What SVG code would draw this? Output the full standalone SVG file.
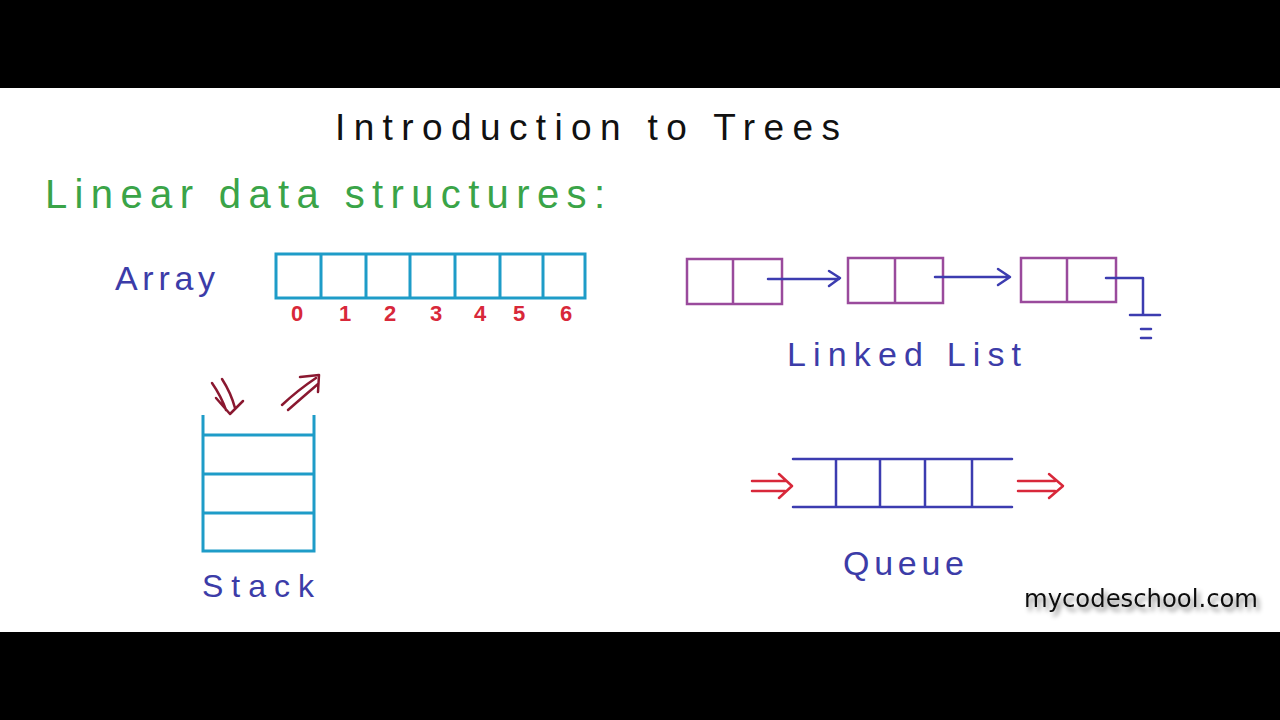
<svg xmlns="http://www.w3.org/2000/svg" width="1280" height="720" viewBox="0 0 1280 720">
<defs>
<style>
.hand{font-family:"Liberation Sans","DejaVu Sans",sans-serif;font-weight:normal}
.blue{fill:#3c3ca8}
.cyan{fill:none;stroke:#1e9cc8;stroke-width:3}
.purp{fill:none;stroke:#9a4a9c;stroke-width:2.5}
.bl{fill:none;stroke:#3c3cb0;stroke-width:2.5;stroke-linecap:round;stroke-linejoin:round}
.red{fill:none;stroke:#d8283a;stroke-width:2.5;stroke-linecap:round;stroke-linejoin:round}
.dred{fill:none;stroke:#8a1830;stroke-width:2.5;stroke-linecap:round;stroke-linejoin:round}
.idx{font-family:"Liberation Sans",sans-serif;font-size:22px;font-weight:bold;fill:#d8283a;text-anchor:middle}
</style>
<filter id="sh" x="-10%" y="-30%" width="120%" height="180%">
<feGaussianBlur in="SourceAlpha" stdDeviation="2.5"/>
<feOffset dx="3" dy="4" result="b"/>
<feComponentTransfer><feFuncA type="linear" slope="0.5"/></feComponentTransfer>
<feMerge><feMergeNode/><feMergeNode in="SourceGraphic"/></feMerge>
</filter>
</defs>
<rect width="1280" height="720" fill="#000"/>
<rect x="0" y="88" width="1280" height="544" fill="#fff"/>

<g id="title">
<text class="hand" x="335" y="140" font-size="37" textLength="505" lengthAdjust="spacing" fill="#111">Introduction to Trees</text>
</g>
<g id="subtitle">
<text class="hand" x="45" y="208" font-size="40" textLength="560" lengthAdjust="spacing" fill="#3aa448">Linear data structures:</text>
</g>

<g id="array">
<text class="hand blue" x="115" y="290" font-size="34" textLength="100" lengthAdjust="spacing">Array</text>
<rect class="cyan" x="276" y="254" width="309" height="44"/>
<path class="cyan" d="M321 254V298M366 254V298M410 254V298M455 254V298M500 254V298M543 254V298"/>
<text class="idx" x="297" y="321">0</text>
<text class="idx" x="345" y="321">1</text>
<text class="idx" x="390" y="321">2</text>
<text class="idx" x="436" y="321">3</text>
<text class="idx" x="480" y="321">4</text>
<text class="idx" x="519" y="321">5</text>
<text class="idx" x="566" y="321">6</text>
</g>

<g id="linked-list">
<rect class="purp" x="687" y="259" width="95" height="45"/>
<path class="purp" d="M733 259V304"/>
<rect class="purp" x="848" y="258" width="95" height="45"/>
<path class="purp" d="M895 258V303"/>
<rect class="purp" x="1021" y="258" width="95" height="44"/>
<path class="purp" d="M1067 258V302"/>
<text class="hand blue" x="787" y="366" font-size="34" textLength="234" lengthAdjust="spacing">Linked List</text>
</g>

<g id="stack">
<path class="cyan" d="M203 415V551H314V415M203 435H314M203 474H314M203 513H314"/>
<text class="hand blue" x="202" y="597" font-size="32" textLength="112" lengthAdjust="spacing">Stack</text>
</g>

<g id="queue">
<path class="bl" d="M793 459H1012M793 507H1012M836 459V507M880 459V507M925 459V507M972 459V507" stroke-linecap="butt"/>
<text class="hand blue" x="843" y="575" font-size="34" textLength="121" lengthAdjust="spacing">Queue</text>
</g>

<g id="watermark">
<text x="1024" y="607" font-family="DejaVu Sans,sans-serif" font-size="24" fill="#111" textLength="234" lengthAdjust="spacingAndGlyphs" filter="url(#sh)">mycodeschool.com</text>
</g>

<g id="connectors">
<path class="bl" d="M768 279H839M829 271L840 278L829 286"/>
<path class="bl" d="M935 277H1009M998 269L1010 277L998 285"/>
<path class="bl" d="M1106 278H1143V315M1130 315H1160M1141 329H1151M1141 338H1151"/>
<path class="dred" d="M212 383Q221 396 226 410M222 379Q231 393 235 408M216 398L230 414L243 401"/>
<path class="dred" d="M282 405Q298 390 316 378M288 410Q304 396 318 384M300 377L319 375L318 392"/>
<path class="red" d="M752 481H785M752 491H785M779 474L792 486L779 498"/>
<path class="red" d="M1018 481H1055M1018 491H1055M1049 474L1063 486L1049 498"/>
</g>
</svg>
